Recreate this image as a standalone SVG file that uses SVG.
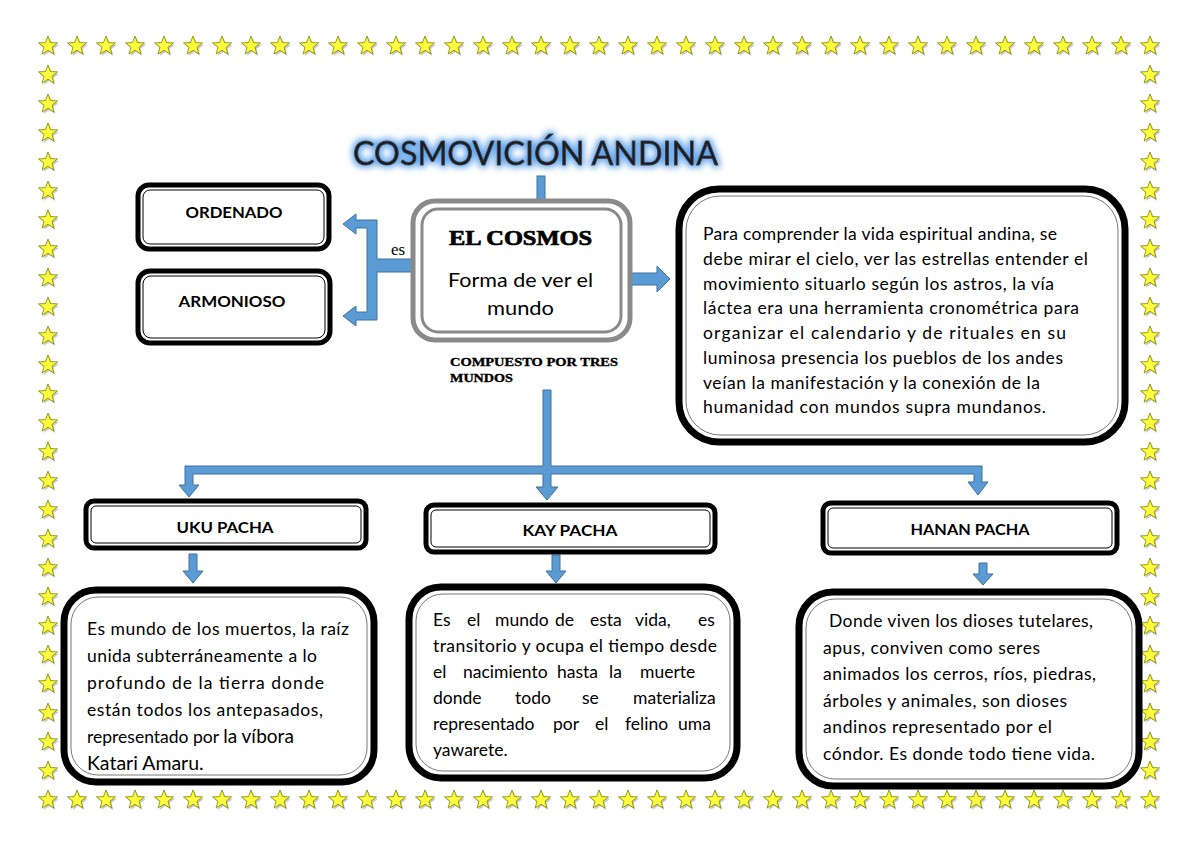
<svg xmlns="http://www.w3.org/2000/svg" xmlns:xlink="http://www.w3.org/1999/xlink" width="1200" height="849" viewBox="0 0 1200 849">
<style>
.blue{fill:#5b9bd5;stroke:#41719c;stroke-width:1}
.box{fill:#fff;stroke:#000;stroke-width:5}
.big{fill:#fff;stroke:#000;stroke-width:7}
.inner{fill:none;stroke:#000;stroke-width:1}
.innerg{fill:none;stroke:#777;stroke-width:1}
.lbl{font-family:Lato,"Liberation Sans",sans-serif;font-weight:bold;font-size:15px;fill:#000}
.body{font-family:Lato,"Liberation Sans",sans-serif;font-size:17.5px;fill:#000}
.serif{font-family:"Liberation Serif",serif;fill:#000}
</style>
<defs>
<g id="star">
<polygon points="0,-10 2.47,-3.4 9.51,-3.09 3.99,1.3 5.88,8.09 0,4.2 -5.88,8.09 -3.99,1.3 -9.51,-3.09 -2.47,-3.4" transform="translate(1.5,1.8)" fill="#9a9a9a" opacity="0.55"/>
<polygon points="0,-10 2.47,-3.4 9.51,-3.09 3.99,1.3 5.88,8.09 0,4.2 -5.88,8.09 -3.99,1.3 -9.51,-3.09 -2.47,-3.4" fill="#ffff3c" stroke="#8c8c10" stroke-width="0.9" stroke-linejoin="round"/>
</g>
<filter id="glow" x="-10%" y="-50%" width="120%" height="200%">
<feMorphology in="SourceAlpha" operator="dilate" radius="2" result="d"/>
<feGaussianBlur in="d" stdDeviation="3" result="b"/>
<feFlood flood-color="#3d8ee6" flood-opacity="0.8"/>
<feComposite in2="b" operator="in" result="g"/>
<feMerge><feMergeNode in="g"/><feMergeNode in="SourceGraphic"/></feMerge>
</filter>
</defs>
<rect width="1200" height="849" fill="#fff"/>

<g id="border">
<g id="top-row">
<use href="#star" x="48" y="46"/><use href="#star" x="77" y="46"/><use href="#star" x="106" y="46"/><use href="#star" x="135" y="46"/><use href="#star" x="164" y="46"/><use href="#star" x="193" y="46"/><use href="#star" x="222" y="46"/><use href="#star" x="251" y="46"/><use href="#star" x="280" y="46"/><use href="#star" x="309" y="46"/><use href="#star" x="338" y="46"/><use href="#star" x="367" y="46"/><use href="#star" x="396" y="46"/><use href="#star" x="425" y="46"/><use href="#star" x="454" y="46"/><use href="#star" x="483" y="46"/><use href="#star" x="512" y="46"/><use href="#star" x="541" y="46"/><use href="#star" x="570" y="46"/><use href="#star" x="599" y="46"/><use href="#star" x="628" y="46"/><use href="#star" x="657" y="46"/><use href="#star" x="686" y="46"/><use href="#star" x="715" y="46"/><use href="#star" x="744" y="46"/><use href="#star" x="773" y="46"/><use href="#star" x="802" y="46"/><use href="#star" x="831" y="46"/><use href="#star" x="860" y="46"/><use href="#star" x="889" y="46"/><use href="#star" x="918" y="46"/><use href="#star" x="947" y="46"/><use href="#star" x="976" y="46"/><use href="#star" x="1005" y="46"/><use href="#star" x="1034" y="46"/><use href="#star" x="1063" y="46"/><use href="#star" x="1092" y="46"/><use href="#star" x="1121" y="46"/><use href="#star" x="1150" y="46"/>
</g>
<g id="bottom-row">
<use href="#star" x="48" y="800"/><use href="#star" x="77" y="800"/><use href="#star" x="106" y="800"/><use href="#star" x="135" y="800"/><use href="#star" x="164" y="800"/><use href="#star" x="193" y="800"/><use href="#star" x="222" y="800"/><use href="#star" x="251" y="800"/><use href="#star" x="280" y="800"/><use href="#star" x="309" y="800"/><use href="#star" x="338" y="800"/><use href="#star" x="367" y="800"/><use href="#star" x="396" y="800"/><use href="#star" x="425" y="800"/><use href="#star" x="454" y="800"/><use href="#star" x="483" y="800"/><use href="#star" x="512" y="800"/><use href="#star" x="541" y="800"/><use href="#star" x="570" y="800"/><use href="#star" x="599" y="800"/><use href="#star" x="628" y="800"/><use href="#star" x="657" y="800"/><use href="#star" x="686" y="800"/><use href="#star" x="715" y="800"/><use href="#star" x="744" y="800"/><use href="#star" x="773" y="800"/><use href="#star" x="802" y="800"/><use href="#star" x="831" y="800"/><use href="#star" x="860" y="800"/><use href="#star" x="889" y="800"/><use href="#star" x="918" y="800"/><use href="#star" x="947" y="800"/><use href="#star" x="976" y="800"/><use href="#star" x="1005" y="800"/><use href="#star" x="1034" y="800"/><use href="#star" x="1063" y="800"/><use href="#star" x="1092" y="800"/><use href="#star" x="1121" y="800"/><use href="#star" x="1150" y="800"/>
</g>
<g id="left-col">
<use href="#star" x="48" y="75"/><use href="#star" x="48" y="104"/><use href="#star" x="48" y="133"/><use href="#star" x="48" y="162"/><use href="#star" x="48" y="191"/><use href="#star" x="48" y="220"/><use href="#star" x="48" y="249"/><use href="#star" x="48" y="278"/><use href="#star" x="48" y="307"/><use href="#star" x="48" y="336"/><use href="#star" x="48" y="365"/><use href="#star" x="48" y="394"/><use href="#star" x="48" y="423"/><use href="#star" x="48" y="452"/><use href="#star" x="48" y="481"/><use href="#star" x="48" y="510"/><use href="#star" x="48" y="539"/><use href="#star" x="48" y="568"/><use href="#star" x="48" y="597"/><use href="#star" x="48" y="626"/><use href="#star" x="48" y="655"/><use href="#star" x="48" y="684"/><use href="#star" x="48" y="713"/><use href="#star" x="48" y="742"/><use href="#star" x="48" y="771"/>
</g>
<g id="right-col">
<use href="#star" x="1150" y="75"/><use href="#star" x="1150" y="104"/><use href="#star" x="1150" y="133"/><use href="#star" x="1150" y="162"/><use href="#star" x="1150" y="191"/><use href="#star" x="1150" y="220"/><use href="#star" x="1150" y="249"/><use href="#star" x="1150" y="278"/><use href="#star" x="1150" y="307"/><use href="#star" x="1150" y="336"/><use href="#star" x="1150" y="365"/><use href="#star" x="1150" y="394"/><use href="#star" x="1150" y="423"/><use href="#star" x="1150" y="452"/><use href="#star" x="1150" y="481"/><use href="#star" x="1150" y="510"/><use href="#star" x="1150" y="539"/><use href="#star" x="1150" y="568"/><use href="#star" x="1150" y="597"/><use href="#star" x="1150" y="626"/><use href="#star" x="1150" y="655"/><use href="#star" x="1150" y="684"/><use href="#star" x="1150" y="713"/><use href="#star" x="1150" y="742"/><use href="#star" x="1150" y="771"/>
</g>
</g>

<g id="title">
<text x="353" y="165" textLength="365" lengthAdjust="spacingAndGlyphs" font-family="Lato,'Liberation Sans',sans-serif" font-size="32" fill="#1e1e1e" stroke="#3a3a3a" stroke-width="0.8" filter="url(#glow)">COSMOVICIÓN ANDINA</text>
</g>

<g id="connectors">
<rect class="blue" x="537" y="176" width="8" height="25"/>
<path class="blue" d="M413 259 L377 259 L377 220 L356 220 L356 214 L343 224 L356 234 L356 228 L367 228 L367 312 L356 312 L356 306 L343 316 L356 326 L356 320 L377 320 L377 272 L413 272 Z"/>
<path class="blue" d="M630 273 L657 273 L657 266 L670 279 L657 292 L657 285 L630 285 Z"/>
<path class="blue" d="M543 390 L551 390 L551 466 L982 466 L982 482 L988 482 L978 495 L968 482 L974 482 L974 474 L551 474 L551 487 L558 487 L547 500 L536 487 L543 487 L543 474 L193 474 L193 485 L199 485 L189 497 L179 485 L185 485 L185 466 L543 466 Z"/>
<path class="blue" d="M189 554 L197 554 L197 571 L203 571 L193 583 L183 571 L189 571 Z"/>
<path class="blue" d="M552 555 L560 555 L560 571 L566 571 L556 583 L546 571 L552 571 Z"/>
<path class="blue" d="M979 563 L987 563 L987 574 L993 574 L983 585 L973 574 L979 574 Z"/>
</g>

<g id="cosmos">
<rect x="413" y="201" width="217" height="139" rx="22" fill="#fff" stroke="#8a8a8a" stroke-width="5"/>
<rect x="422" y="209" width="199" height="123" rx="16" fill="none" stroke="#8a8a8a" stroke-width="3"/>
<text class="serif" x="449" y="245" textLength="143" lengthAdjust="spacingAndGlyphs" font-size="20" font-weight="bold" stroke="#000" stroke-width="0.7">EL COSMOS</text>
<text x="448" y="287" textLength="145" lengthAdjust="spacingAndGlyphs" font-family="Lato,'Liberation Sans',sans-serif" font-size="20">Forma de ver el</text>
<text x="487" y="315" textLength="67" lengthAdjust="spacingAndGlyphs" font-family="Lato,'Liberation Sans',sans-serif" font-size="20">mundo</text>
</g>

<g id="es-label">
<text class="serif" x="391" y="255" font-size="17">es</text>
</g>

<g id="compuesto">
<text class="serif" x="450" y="366" textLength="168" lengthAdjust="spacingAndGlyphs" font-size="12" font-weight="bold" stroke="#000" stroke-width="0.35">COMPUESTO POR TRES</text>
<text class="serif" x="450" y="382" textLength="63" lengthAdjust="spacingAndGlyphs" font-size="12" font-weight="bold" stroke="#000" stroke-width="0.35">MUNDOS</text>
</g>

<g id="ordenado">
<rect class="box" x="138" y="185" width="191" height="64" rx="11"/>
<rect class="inner" x="143" y="190" width="181" height="54" rx="7"/>
<text class="lbl" x="234" y="218" text-anchor="middle" textLength="97" lengthAdjust="spacingAndGlyphs">ORDENADO</text>
</g>

<g id="armonioso">
<rect class="box" x="138" y="271" width="192" height="72" rx="12"/>
<rect class="inner" x="143" y="276" width="182" height="62" rx="8"/>
<text class="lbl" x="232" y="307" text-anchor="middle" textLength="107" lengthAdjust="spacingAndGlyphs">ARMONIOSO</text>
</g>

<g id="descripcion">
<rect class="big" x="679" y="189" width="446" height="253" rx="40"/>
<rect class="innerg" x="686" y="196" width="432" height="239" rx="34"/>
<text class="body">
<tspan x="703" y="240" textLength="354" lengthAdjust="spacing">Para comprender la vida espiritual andina, se</tspan>
<tspan x="703" y="265" textLength="385" lengthAdjust="spacing">debe mirar el cielo, ver las estrellas entender el</tspan>
<tspan x="703" y="290" textLength="351" lengthAdjust="spacing">movimiento situarlo según los astros, la vía</tspan>
<tspan x="703" y="314" textLength="376" lengthAdjust="spacing">láctea era una herramienta cronométrica para</tspan>
<tspan x="703" y="339" textLength="363" lengthAdjust="spacing">organizar el calendario y de rituales en su</tspan>
<tspan x="703" y="364" textLength="360" lengthAdjust="spacing">luminosa presencia los pueblos de los andes</tspan>
<tspan x="703" y="389" textLength="337" lengthAdjust="spacing">veían la manifestación y la conexión de la</tspan>
<tspan x="703" y="413" textLength="343" lengthAdjust="spacing">humanidad con mundos supra mundanos.</tspan>
</text>
</g>

<g id="uku-pacha">
<rect class="box" x="86" y="501" width="280" height="47" rx="8"/>
<rect class="inner" x="91" y="506" width="270" height="37" rx="5"/>
<text class="lbl" x="225" y="533" text-anchor="middle" textLength="97" lengthAdjust="spacingAndGlyphs">UKU PACHA</text>
</g>

<g id="kay-pacha">
<rect class="box" x="426" y="505" width="289" height="47" rx="8"/>
<rect class="inner" x="431" y="510" width="279" height="37" rx="5"/>
<text class="lbl" x="570" y="536" text-anchor="middle" textLength="95" lengthAdjust="spacingAndGlyphs">KAY PACHA</text>
</g>

<g id="hanan-pacha">
<rect class="box" x="823" y="503" width="294" height="50" rx="8"/>
<rect class="inner" x="828" y="508" width="284" height="40" rx="5"/>
<text class="lbl" x="970" y="535" text-anchor="middle" textLength="119" lengthAdjust="spacingAndGlyphs">HANAN PACHA</text>
</g>

<g id="uku-texto">
<rect class="big" x="64" y="590" width="310" height="192" rx="32"/>
<rect class="innerg" x="71" y="597" width="296" height="178" rx="27"/>
<text class="body">
<tspan x="87" y="635" textLength="262" lengthAdjust="spacing">Es mundo de los muertos, la raíz</tspan>
<tspan x="87" y="662" textLength="230" lengthAdjust="spacing">unida subterráneamente a lo</tspan>
<tspan x="87" y="689" textLength="237" lengthAdjust="spacing">profundo de la tierra donde</tspan>
<tspan x="87" y="716" textLength="236" lengthAdjust="spacing">están todos los antepasados,</tspan>
<tspan x="87" y="743">representado por <tspan font-size="19">la víbora</tspan></tspan>
<tspan x="87" y="770" font-size="19.5">Katari Amaru.</tspan>
</text>
</g>

<g id="kay-texto">
<rect class="big" x="409" y="587" width="328" height="191" rx="32"/>
<rect class="innerg" x="416" y="594" width="314" height="177" rx="27"/>
<text class="body" font-size="17">
<tspan x="433" y="626">Es</tspan><tspan x="467" y="626">el</tspan><tspan x="495" y="626">mundo</tspan><tspan x="555" y="626">de</tspan><tspan x="590" y="626">esta</tspan><tspan x="635" y="626">vida,</tspan><tspan x="698" y="626">es</tspan>
<tspan x="433" y="652" textLength="284" lengthAdjust="spacing">transitorio y ocupa el tiempo desde</tspan>
<tspan x="433" y="678">el</tspan><tspan x="463" y="678">nacimiento</tspan><tspan x="557" y="678">hasta</tspan><tspan x="609" y="678">la</tspan><tspan x="640" y="678">muerte</tspan>
<tspan x="433" y="704">donde</tspan><tspan x="515" y="704">todo</tspan><tspan x="582" y="704">se</tspan><tspan x="633" y="704">materializa</tspan>
<tspan x="433" y="730">representado</tspan><tspan x="553" y="730">por</tspan><tspan x="595" y="730">el</tspan><tspan x="625" y="730">felino</tspan><tspan x="678" y="730">uma</tspan>
<tspan x="433" y="756">yawarete.</tspan>
</text>
</g>

<g id="hanan-texto">
<rect class="big" x="799" y="592" width="340" height="194" rx="34"/>
<rect class="innerg" x="806" y="599" width="326" height="180" rx="29"/>
<text class="body">
<tspan x="829" y="627" textLength="264" lengthAdjust="spacing">Donde viven los dioses tutelares,</tspan>
<tspan x="823" y="654" textLength="217" lengthAdjust="spacing">apus, conviven como seres</tspan>
<tspan x="823" y="680" textLength="273" lengthAdjust="spacing">animados los cerros, ríos, piedras,</tspan>
<tspan x="823" y="707" textLength="244" lengthAdjust="spacing">árboles y animales, son dioses</tspan>
<tspan x="823" y="733" textLength="229" lengthAdjust="spacing">andinos representado por el</tspan>
<tspan x="823" y="760" textLength="272" lengthAdjust="spacing">cóndor. Es donde todo tiene vida.</tspan>
</text>
</g>
</svg>
